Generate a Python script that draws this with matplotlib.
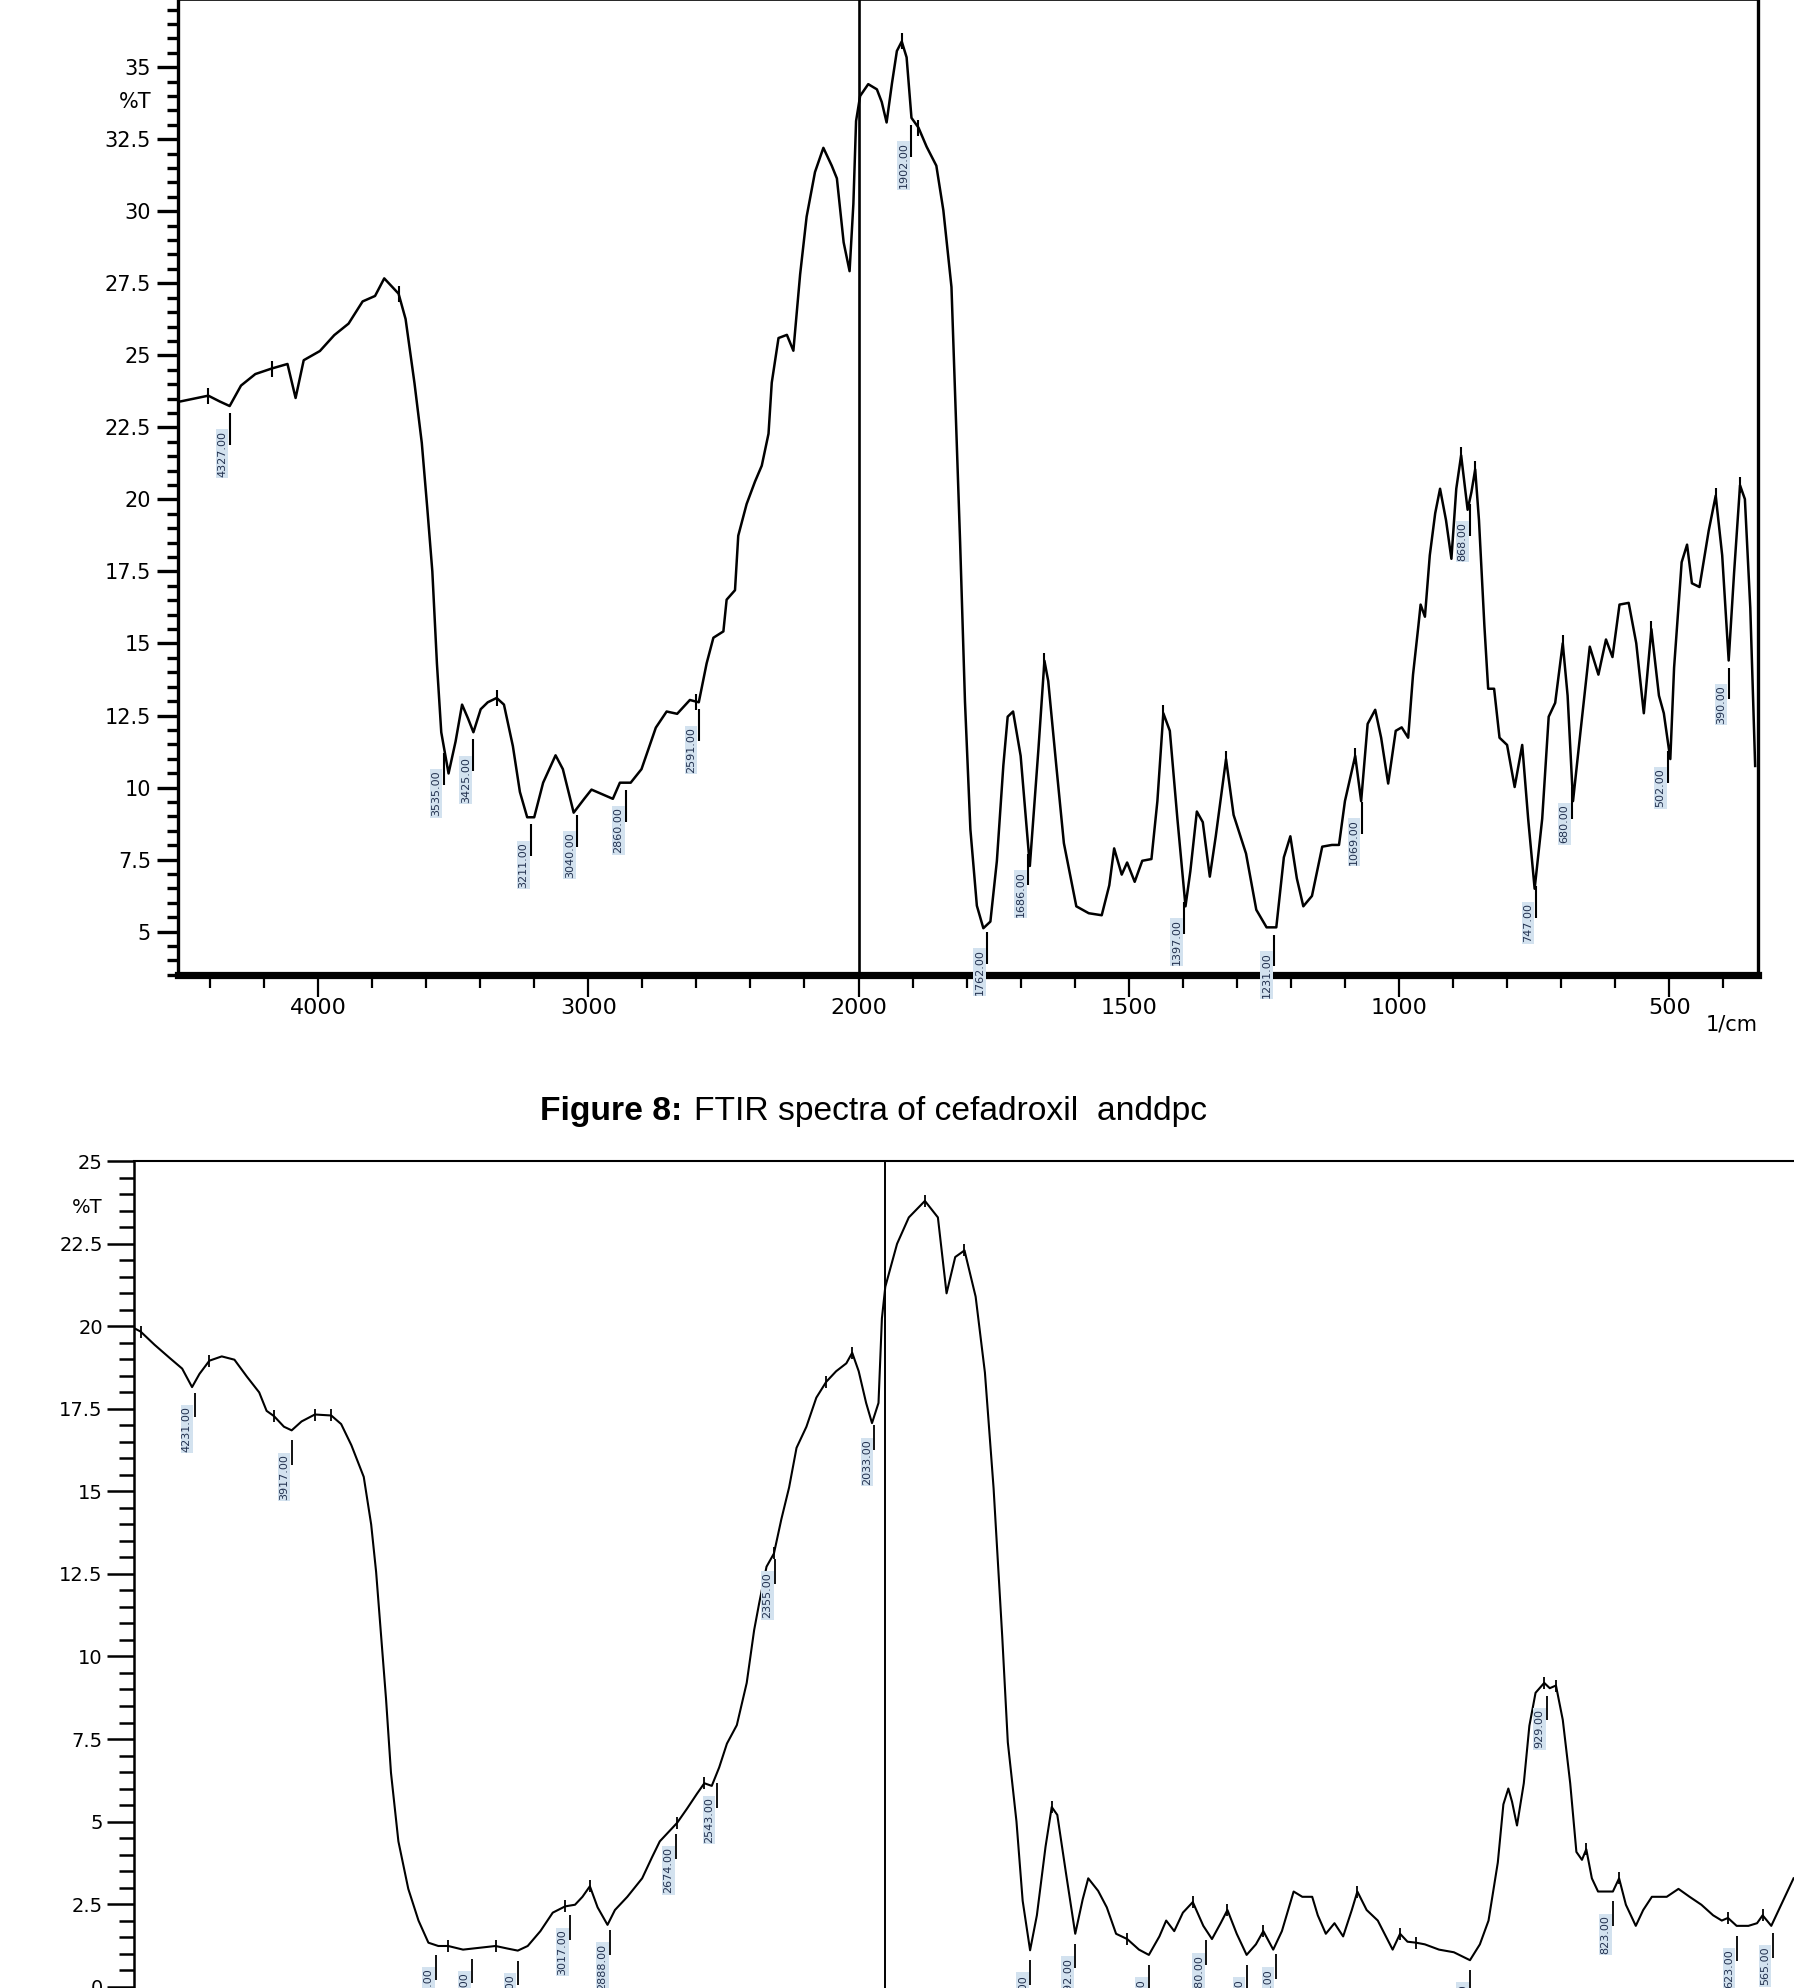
import numpy as np
import matplotlib
matplotlib.use("Agg")
import matplotlib.pyplot as plt
from matplotlib.ticker import FixedLocator, MultipleLocator, FuncFormatter

# ---------------- data ----------------
top_wn = np.array([4520, 4509, 4406, 4364, 4327, 4285, 4232, 4172, 4113, 4083, 4053, 3993, 3940, 3887,
                   3835, 3789, 3755, 3702, 3676, 3643, 3616, 3596, 3577, 3560, 3544, 3517, 3491, 3467,
                   3445, 3425, 3398, 3372, 3339, 3312, 3279, 3253, 3226, 3200, 3167, 3121, 3094, 3054,
                   3015, 2988, 2949, 2909, 2883, 2843, 2803, 2750, 2710, 2671, 2624, 2591, 2562, 2537,
                   2500, 2488, 2457, 2445, 2414, 2383, 2358, 2333, 2321, 2296, 2265, 2241, 2216, 2192,
                   2161, 2130, 2099, 2080, 2055, 2033, 2019, 2009, 1997, 1982, 1966, 1957, 1948, 1938,
                   1929, 1920, 1911, 1902, 1889, 1874, 1856, 1843, 1828, 1822, 1812, 1803, 1793, 1781,
                   1769, 1756, 1744, 1732, 1724, 1714, 1700, 1683, 1667, 1656, 1649, 1634, 1620, 1597,
                   1574, 1550, 1536, 1527, 1513, 1503, 1489, 1475, 1458, 1447, 1436, 1424, 1410, 1395,
                   1386, 1374, 1363, 1350, 1339, 1320, 1306, 1283, 1264, 1245, 1227, 1213, 1201, 1189,
                   1177, 1161, 1142, 1124, 1111, 1100, 1081, 1070, 1058, 1044, 1033, 1020, 1006, 995,
                   983, 974, 964, 960, 952, 943, 933, 924, 913, 903, 894, 885, 873, 866, 859, 852, 842,
                   835, 824, 814, 800, 786, 772, 761, 749, 735, 723, 711, 697, 688, 678, 664, 647, 631,
                   617, 605, 592, 575, 561, 547, 533, 519, 510, 498, 491, 477, 467, 458, 444, 427, 414,
                   402, 390, 380, 369, 360, 350, 341])
top_t = np.array([23.4, 23.4, 23.6, 23.4, 23.24, 23.95, 24.35, 24.54, 24.7, 23.52, 24.83, 25.15, 25.7, 26.1,
                  26.87, 27.06, 27.67, 27.14, 26.26, 24.03, 21.96, 19.73, 17.5, 14.3, 11.92, 10.49, 11.6, 12.88,
                  12.4, 11.92, 12.72, 12.96, 13.11, 12.88, 11.44, 9.85, 8.97, 8.97, 10.17, 11.12, 10.64, 9.13,
                  9.61, 9.93, 9.77, 9.61, 10.17, 10.17, 10.64, 12.08, 12.64, 12.56, 13.04, 12.96, 14.31, 15.2,
                  15.42, 16.52, 16.85, 18.74, 19.84, 20.62, 21.17, 22.28, 24.05, 25.6, 25.71, 25.16, 27.81, 29.81,
                  31.36, 32.2, 31.58, 31.14, 28.92, 27.92, 30.25, 33.13, 34.0, 34.41, 34.23, 33.79, 33.08, 34.45,
                  35.56, 35.89, 35.34, 33.24, 32.9, 32.24, 31.58, 30.03, 27.37, 24.05, 18.51, 12.98, 8.55, 5.9,
                  5.12, 5.35, 7.45, 10.77, 12.46, 12.64, 11.1, 7.28, 11.36, 14.4, 13.7, 10.75, 8.07, 5.88,
                  5.64, 5.57, 6.61, 7.89, 6.98, 7.4, 6.73, 7.46, 7.52, 9.53, 12.58, 11.97, 8.92, 5.88,
                  7.1, 9.17, 8.8, 6.91, 8.31, 10.99, 9.05, 7.71, 5.76, 5.15, 5.15, 7.58, 8.31, 6.85,
                  5.88, 6.24, 7.95, 8.01, 8.01, 9.53, 11.1, 9.53, 12.21, 12.7, 11.73, 10.14, 11.97, 12.09,
                  11.73, 13.92, 15.63, 16.35, 15.93, 18.06, 19.52, 20.37, 19.28, 17.94, 20.37, 21.53, 19.64, 20.25, 21.04, 19.28, 15.62,
                  13.43, 13.43, 11.73, 11.48, 10.02, 11.48, 8.92, 6.49, 8.92, 12.46, 12.94, 15.01, 13.19, 9.53, 11.97, 14.89, 13.92,
                  15.14, 14.53, 16.35, 16.41, 15.01, 12.58, 15.5, 13.19, 12.58, 10.99, 14.16, 17.82, 18.43, 17.09, 16.96, 18.91, 20.13,
                  18.06, 14.41, 17.45, 20.49, 20.01, 16.23, 10.75])

bot_wn = np.array([4427, 4405, 4360, 4311, 4271, 4239, 4215, 4183, 4143, 4102, 4062, 4022, 3998, 3974,
                   3942, 3917, 3885, 3842, 3789, 3757, 3724, 3684, 3660, 3644, 3628, 3612, 3596, 3572,
                   3540, 3507, 3475, 3443, 3411, 3363, 3314, 3258, 3218, 3186, 3154, 3113, 3073, 3033,
                   3001, 2977, 2953, 2928, 2896, 2872, 2832, 2784, 2752, 2727, 2703, 2671, 2639, 2607,
                   2583, 2559, 2535, 2510, 2478, 2446, 2422, 2406, 2382, 2358, 2334, 2309, 2285, 2253,
                   2221, 2189, 2157, 2124, 2105, 2084, 2060, 2041, 2020, 2009, 1999, 1980, 1961, 1935,
                   1914, 1900, 1886, 1871, 1853, 1838, 1824, 1810, 1801, 1787, 1777, 1765, 1754, 1740,
                   1730, 1721, 1707, 1692, 1680, 1671, 1655, 1641, 1626, 1608, 1589, 1573, 1556, 1545,
                   1532, 1518, 1502, 1485, 1471, 1457, 1446, 1431, 1415, 1400, 1388, 1372, 1358, 1339,
                   1325, 1309, 1300, 1287, 1273, 1259, 1245, 1236, 1221, 1203, 1190, 1179, 1167, 1155,
                   1141, 1127, 1104, 1080, 1066, 1054, 1038, 1024, 1009, 1000, 992, 986, 978, 967,
                   958, 948, 934, 925, 915, 904, 892, 882, 873, 866, 857, 847, 823, 813, 802, 786,
                   774, 760, 736, 717, 699, 680, 661, 647, 637, 623, 604, 590, 581, 567, 553, 531])
bot_t = np.array([19.95, 19.84, 19.44, 19.04, 18.72, 18.16, 18.56, 18.96, 19.09, 18.99, 18.48, 18.0, 17.44, 17.28,
                  16.96, 16.85, 17.12, 17.33, 17.3, 17.04, 16.4, 15.44, 14.0, 12.56, 10.64, 8.72, 6.48, 4.4,
                  2.96, 2.0, 1.33, 1.23, 1.23, 1.12, 1.17, 1.23, 1.15, 1.09, 1.23, 1.68, 2.24, 2.43,
                  2.48, 2.72, 3.04, 2.4, 1.87, 2.32, 2.72, 3.28, 3.92, 4.4, 4.64, 4.96, 5.39, 5.84,
                  6.16, 6.08, 6.64, 7.36, 7.92, 9.2, 10.8, 11.6, 12.72, 13.12, 14.16, 15.12, 16.32, 16.96,
                  17.84, 18.32, 18.64, 18.88, 19.2, 18.64, 17.68, 17.07, 17.68, 20.24, 21.2, 22.5, 23.3, 23.8,
                  23.3, 21.0, 22.1, 22.3, 20.9, 18.6, 15.1, 10.6, 7.4, 5.0, 2.6, 1.1, 2.16, 4.24,
                  5.44, 5.2, 3.44, 1.6, 2.64, 3.28, 2.9, 2.4, 1.6, 1.44, 1.12, 0.96, 1.52, 2.0,
                  1.68, 2.24, 2.56, 1.84, 1.44, 1.92, 2.32, 1.6, 0.96, 1.28, 1.68, 1.12, 1.68, 2.88,
                  2.72, 2.72, 2.16, 1.6, 1.92, 1.52, 2.32, 2.88, 2.32, 2.0, 1.52, 1.12, 1.6, 1.36,
                  1.33, 1.28, 1.12, 1.04, 0.91, 0.8, 1.28, 2.0, 3.76, 5.52, 6.0, 5.6, 4.88, 6.16,
                  7.9, 8.9, 9.2, 9.04, 9.12, 8.08, 6.16, 4.08, 3.84, 4.16, 3.28, 2.88, 2.88, 3.28, 2.48, 1.84,
                  2.32, 2.72, 2.72, 2.96, 2.72, 2.48, 2.16, 2.0, 2.08, 1.84, 1.84, 1.92, 2.16, 1.84, 2.4, 3.28])

# peak-pick markers (line + label) and '+' marks on the curves
top_peaks = [4327, 3535, 3425, 3211, 3040, 2860, 2591, 1902, 1762, 1686, 1397, 1231, 1069, 868, 747, 680, 502, 390]
bot_peaks = [4231, 3917, 3451, 3334, 3186, 3017, 2888, 2674, 2543, 2355, 2033, 1765, 1692, 1573, 1480,
             1415, 1368, 1054, 929, 823, 623, 565]
top_plus = [4406, 4172, 3702, 3339, 2600, 1920, 1889, 1656, 1436, 1320, 1081, 885, 859, 697, 533, 414, 369]
bot_plus = [4405, 4183, 3974, 3842, 3789, 3411, 3258, 3033, 2953, 2671, 2583, 2358, 2189, 2105, 1935, 1871,
            1730, 1608, 1502, 1446, 1388, 1236, 1167, 1141, 934, 915, 866, 813, 637, 581]

x_major = [4000, 3000, 2000, 1500, 1000, 500]
x_major_labels = ["4000", "3000", "2000", "1500", "1000", "500"]
x_minor = [4400, 4200, 3800, 3600, 3400, 3200, 2800, 2600, 2400, 2200, 1900, 1800, 1700, 1600, 1400,
           1300, 1200, 1100, 900, 800, 700, 600, 400]
top_yticks = [5, 7.5, 10, 12.5, 15, 17.5, 20, 22.5, 25, 27.5, 30, 32.5, 35]
bot_yticks = [0, 2.5, 5, 7.5, 10, 12.5, 15, 17.5, 20, 22.5, 25]
caption_bold = "Figure 8:"
caption_rest = "FTIR spectra of cefadroxil  anddpc"


# --------------- scale: 2x expansion below 2000 1/cm ---------------
def fwd(x):
    x = np.asarray(x, dtype=float)
    return np.where(x > 2000, 2000 + (x - 2000) / 2.0, x)


def inv(p):
    p = np.asarray(p, dtype=float)
    return np.where(p > 2000, 2000 + (p - 2000) * 2.0, p)


W, H = 1794, 1988
fig = plt.figure(figsize=(W / 100, H / 100), dpi=100)
fig.patch.set_facecolor("white")

LABEL_FONT = "DejaVu Sans"
yfmt = FuncFormatter(lambda v, pos: f"{v:g}")


def add_marks(ax, wn, t, peaks, plus, gap, length, fs, plus_size, lw):
    order = np.argsort(wn)
    xs, ys = wn[order], t[order]
    for p in peaks:
        v = np.interp(p, xs, ys)
        ax.plot([p, p], [v - gap, v - gap - length], color="black", lw=lw, solid_capstyle="butt", zorder=3)
        ax.annotate(f"{p:.2f}", xy=(p, v - gap - 0.55 * length), xytext=(-5.5, 0),
                    textcoords="offset points", rotation=90, ha="center", va="top",
                    fontsize=fs, color="#22314f", family=LABEL_FONT,
                    bbox=dict(boxstyle="square,pad=0.12", fc="#d3e2ef", ec="none"), zorder=4)
    pv = np.interp(plus, xs, ys)
    ax.plot(plus, pv, linestyle="none", marker="|", markersize=plus_size, mew=lw,
            color="black", zorder=3)


# ---------------- top spectrum ----------------
L1, R1, B1 = 177.5, 1758.4, 974.9
ax1 = fig.add_axes([L1 / W, (H - B1) / H, (R1 - L1) / W, B1 / H])
ax1.set_xscale("function", functions=(fwd, inv))
ax1.set_xlim(4520, 335)
ax1.set_ylim(3.5, 37.33)
ax1.plot(top_wn, top_t, color="black", lw=1.8, zorder=2)
ax1.axvline(2000, color="black", lw=1.9, zorder=1)
add_marks(ax1, top_wn, top_t, top_peaks, top_plus, gap=0.25, length=1.1, fs=8, plus_size=11, lw=1.5)

ax1.xaxis.set_major_locator(FixedLocator(x_major))
ax1.set_xticklabels(x_major_labels)
ax1.xaxis.set_minor_locator(FixedLocator(x_minor))
ax1.yaxis.set_major_locator(FixedLocator(top_yticks))
ax1.yaxis.set_minor_locator(MultipleLocator(0.5))
ax1.yaxis.set_major_formatter(yfmt)
ax1.tick_params(axis="x", which="major", direction="out", length=15.5, width=1.6, pad=1, labelsize=16)
ax1.tick_params(axis="x", which="minor", direction="out", length=9, width=1.6)
ax1.tick_params(axis="y", which="major", direction="out", length=15, width=2.4, pad=4, labelsize=15)
ax1.tick_params(axis="y", which="minor", direction="out", length=8, width=2.4)
for lab in ax1.get_xticklabels() + ax1.get_yticklabels():
    lab.set_family(LABEL_FONT)
ax1.spines["bottom"].set_linewidth(5.2)
ax1.spines["left"].set_linewidth(2.4)
ax1.spines["right"].set_linewidth(2.4)
ax1.spines["top"].set_linewidth(1.2)
ax1.annotate("%T", xy=(0, 33.8), xycoords=("axes fraction", "data"), xytext=(-19, 0),
             textcoords="offset points", ha="right", va="center", fontsize=15, family=LABEL_FONT)
fig.text(1758 / W, 1 - 1025 / H, "1/cm", ha="right", va="center", fontsize=15, family=LABEL_FONT)

# ---------------- caption ----------------
fig.text(540 / W, 1 - 1120 / H, caption_bold, ha="left", va="baseline", fontsize=24.2,
         fontweight="bold", family=["Liberation Sans", "DejaVu Sans"])
fig.text(694 / W, 1 - 1120 / H, caption_rest, ha="left", va="baseline", fontsize=24.2,
         family=["Liberation Sans", "DejaVu Sans"])

# ---------------- bottom spectrum ----------------
L2, T2 = 133.9, 1161.3
px_per_unit = 33.01
y_lo = -2.5
bottom_px = 1986.6 - y_lo * px_per_unit
ax2 = fig.add_axes([L2 / W, (H - bottom_px) / H, 1740.7 / W, (bottom_px - T2) / H])
ax2.set_xscale("function", functions=(fwd, inv))
ax2.set_xlim(4427, 400)
ax2.set_ylim(y_lo, 25)
ax2.plot(bot_wn, bot_t, color="black", lw=1.5, zorder=2)
ax2.axvline(2000, color="black", lw=1.4, zorder=1)
add_marks(ax2, bot_wn, bot_t, bot_peaks, bot_plus, gap=0.3, length=0.75, fs=8, plus_size=9, lw=1.3)

ax2.set_xticks([])
ax2.xaxis.set_minor_locator(FixedLocator([]))
ax2.yaxis.set_major_locator(FixedLocator(bot_yticks))
ax2.yaxis.set_minor_locator(MultipleLocator(0.5))
ax2.yaxis.set_major_formatter(yfmt)
ax2.tick_params(axis="y", which="major", direction="out", length=19.4, width=1.8, pad=3, labelsize=14)
ax2.tick_params(axis="y", which="minor", direction="out", length=10.8, width=1.8)
for lab in ax2.get_yticklabels():
    lab.set_family(LABEL_FONT)
ax2.spines["left"].set_linewidth(1.8)
ax2.spines["top"].set_linewidth(1.5)
ax2.annotate("%T", xy=(0, 23.6), xycoords=("axes fraction", "data"), xytext=(-22.5, 0),
             textcoords="offset points", ha="right", va="center", fontsize=14, family=LABEL_FONT)

fig.savefig("out.png", dpi=100, facecolor="white")
